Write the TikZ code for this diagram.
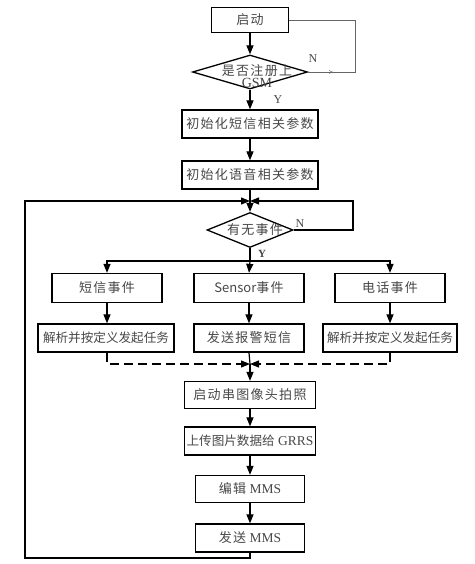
\documentclass[tikz,border=0pt]{standalone}
\usepackage{fontspec}
\setmainfont{Liberation Serif}
\newfontfamily\cjk{Noto Sans CJK SC}
\newfontfamily\cjkw[LetterSpace=10]{Noto Sans CJK SC}
\usetikzlibrary{shapes.geometric,arrows.meta}
\begin{document}
\begin{tikzpicture}[x=1pt,y=-1pt,
  box/.style={draw, line width=1.3pt, inner sep=0pt, text=black!72, font=\cjkw\fontsize{13}{15}\selectfont},
  tight/.style={font=\cjk\fontsize{12.6}{15}\selectfont},
  dia/.style={draw, diamond, line width=1.3pt, inner sep=0pt},
  flow/.style={line width=1.2pt, -{Triangle[length=9pt,width=7pt]}},
  ln/.style={line width=1.2pt},
  dashline/.style={line width=1.2pt, dash pattern=on 9pt off 5pt, -{Triangle[length=9pt,width=7pt]}},
  lbl/.style={text=black!72, font=\fontsize{12}{14}\selectfont, inner sep=0pt}]
\useasboundingbox (0,0) rectangle (474,564);
% nodes
\node[box, minimum width=77pt, minimum height=25pt] (start) at (250,20) {启动};
\node[dia, minimum width=115pt, minimum height=34pt] (d1) at (250,72) {};
\node[lbl, align=center, font=\cjkw\fontsize{13}{13}\selectfont] (d1t) at (257,76) {是否注册上\\[-1pt]{\rmfamily\fontsize{14}{13}\selectfont GSM}};
\node[box, minimum width=136pt, minimum height=28pt] (p1) at (250,124) {初始化短信相关参数};
\node[box, minimum width=136pt, minimum height=28pt] (p2) at (250,175) {初始化语音相关参数};
\node[dia, minimum width=86pt, minimum height=35pt] (d2) at (250,230) {};
\node[lbl, font=\cjkw\fontsize{13}{14}\selectfont] (d2t) at (255,230) {有无事件};
\node[box, minimum width=110pt, minimum height=29pt] (e1) at (107,288) {短信事件};
\node[box, minimum width=110pt, minimum height=29pt] (e2) at (249,288) {{\cjk Sensor}事件};
\node[box, minimum width=110pt, minimum height=29pt] (e3) at (390,288) {电话事件};
\node[box, tight, minimum width=136pt, minimum height=28pt] (f1) at (106,338) {解析并按定义发起任务};
\node[box, minimum width=110pt, minimum height=28pt] (f2) at (249,338) {发送报警短信};
\node[box, tight, minimum width=134pt, minimum height=28pt] (f3) at (390,338) {解析并按定义发起任务};
\node[box, minimum width=131pt, minimum height=27pt] (g1) at (250,395) {启动串图像头拍照};
\node[box, tight, minimum width=131pt, minimum height=28pt] (g2) at (250,441) {上传图片数据给{\rmfamily\fontsize{13.5}{15}\selectfont\ GRRS}};
\node[box, minimum width=109pt, minimum height=27pt] (g3) at (250,489) {编辑{\rmfamily\fontsize{13.5}{15}\selectfont\ MMS}};
\node[box, minimum width=109pt, minimum height=28pt] (g4) at (250,538) {发送{\rmfamily\fontsize{13.5}{15}\selectfont\ MMS}};
% labels
\node[lbl] (nl1) at (313,59) {N};
\node[lbl] (yl1) at (278,100) {Y};
\node[lbl] (nl2) at (300,224) {N};
\node[lbl, font=\bfseries\fontsize{11}{12}\selectfont] (yl2) at (262,254) {Y};
% coordinates
\coordinate (nA) at (333,72);
\coordinate (nB) at (355,72);
\coordinate (J) at (250,201);
\coordinate (nR) at (353,230);
\coordinate (br) at (250,261);
\coordinate (J2) at (250,364);
\coordinate (bl) at (25,558);
% connectors
\draw[flow] (start.south) -- (d1.north);
\draw[black!60, -{To[length=4pt,width=4pt]}] (d1.east) -- (nA);
\draw[black!60] (nA) -- (nB) |- (start.east);
\draw[flow] (d1.south) -- (p1.north);
\draw[flow] (p1.south) -- (p2.north);
\draw[ln] (p2.south) -- (J);
\draw[flow] (J) -- (d2.north);
\draw[flow] (d2.east) -- (nR) |- (J);
\draw[ln] (d2.south) -- (br);
\draw[flow] (br) -| (e1.north);
\draw[flow] (br) -- (e2.north);
\draw[flow] (br) -| (e3.north);
\draw[flow] (e1.south) -- (f1.north -| e1.south);
\draw[flow] (e2.south) -- (f2.north);
\draw[flow] (e3.south) -- (f3.north -| e3.south);
\draw[dashline] (f1.south -| e1.south) |- (J2);
\draw[dashline] (f3.south -| e3.south) |- (J2);
\draw[ln] (f2.south) -- (J2);
\draw[flow] (J2) -- (g1.north);
\draw[flow] (g1.south) -- (g2.north);
\draw[flow] (g2.south) -- (g3.north);
\draw[flow] (g3.south) -- (g4.north);
\draw[flow] (g4.south) |- (bl) |- (J);
\end{tikzpicture}
\end{document}
